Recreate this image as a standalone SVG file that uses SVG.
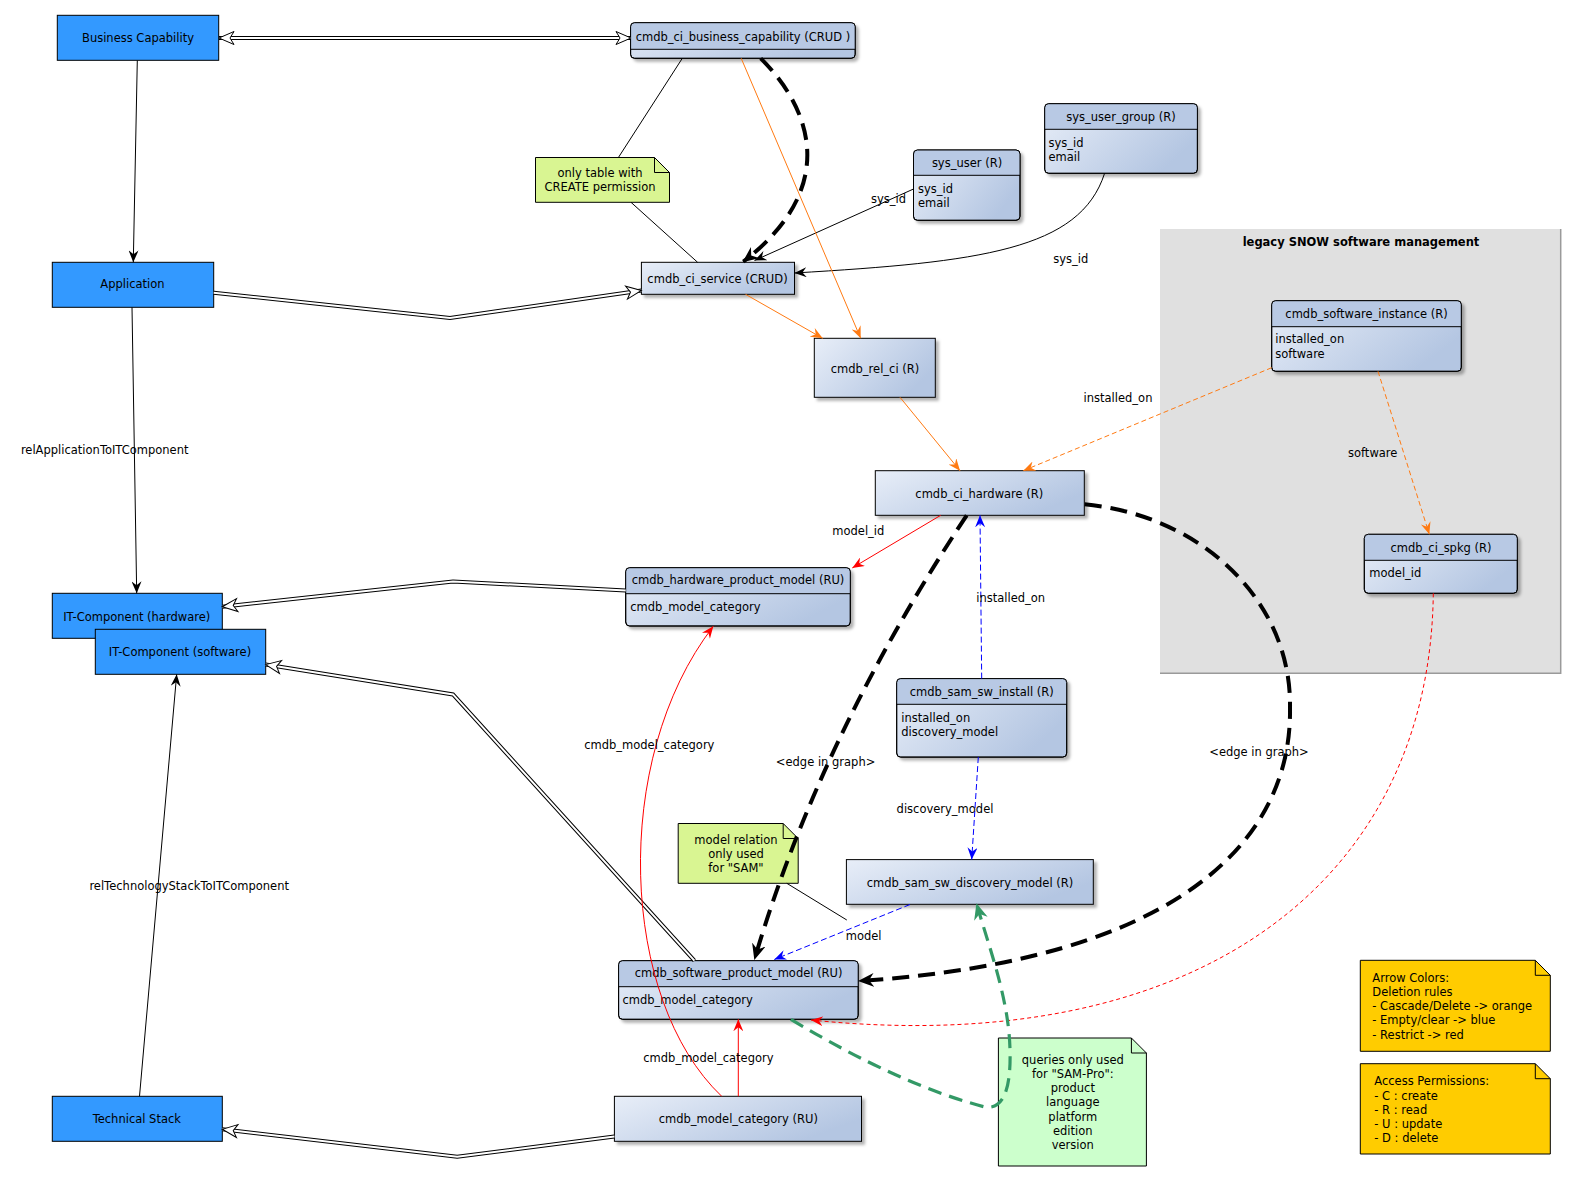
<svg xmlns="http://www.w3.org/2000/svg" width="1578" height="1182" viewBox="0 0 1578 1182">
<style>
text{font-family:"DejaVu Sans",Verdana,sans-serif;font-size:11.5px;fill:#000}
.c{text-anchor:middle}
.bd{font-weight:bold}
.blue{fill:#3399ff;stroke:#000;stroke-width:1}
.cls{fill:url(#g);stroke:#000;stroke-width:1}
.hdr{fill:#b8c9e4}
.sep{stroke:#000;stroke-width:1}
.note{stroke:#000;stroke-width:1}
.ln{fill:none;stroke-width:1}
.k{stroke:#000}
.o{stroke:#ff7a12}
.r{stroke:#ff0000}
.bl{stroke:#0000ff}
.dl1{fill:none;stroke:#000;stroke-width:4}
.dl2{fill:none;stroke:#fff;stroke-width:2}
.ha{fill:#fff;stroke:#000;stroke-width:1}
.thick{fill:none;stroke:#000;stroke-width:4;stroke-dasharray:17 9}
.grn{fill:none;stroke:#339966;stroke-width:3.2;stroke-dasharray:14 8}
</style>
<defs>
<linearGradient id="g" x1="0" y1="0" x2="1" y2="0.5">
<stop offset="0" stop-color="#e8eef8"/>
<stop offset="1" stop-color="#b4c6e2"/>
</linearGradient>
<filter id="sh" x="-10%" y="-10%" width="130%" height="140%">
<feDropShadow dx="3" dy="3" stdDeviation="1.5" flood-color="#000" flood-opacity="0.3"/>
</filter>
<marker id="mk" viewBox="0 0 12 10" refX="12" refY="5" markerWidth="12" markerHeight="10" markerUnits="userSpaceOnUse" orient="auto"><path d="M0,0 L12,5 L0,10 L4,5 z" fill="#000"/></marker>
<marker id="mo" viewBox="0 0 12 10" refX="12" refY="5" markerWidth="12" markerHeight="10" markerUnits="userSpaceOnUse" orient="auto"><path d="M0,0 L12,5 L0,10 L4,5 z" fill="#ff7a12"/></marker>
<marker id="mr" viewBox="0 0 12 10" refX="12" refY="5" markerWidth="12" markerHeight="10" markerUnits="userSpaceOnUse" orient="auto"><path d="M0,0 L12,5 L0,10 L4,5 z" fill="#ff0000"/></marker>
<marker id="mb" viewBox="0 0 12 10" refX="12" refY="5" markerWidth="12" markerHeight="10" markerUnits="userSpaceOnUse" orient="auto"><path d="M0,0 L12,5 L0,10 L4,5 z" fill="#0000ff"/></marker>
<marker id="mK" viewBox="0 0 16 14" refX="15" refY="7" markerWidth="16" markerHeight="14" markerUnits="userSpaceOnUse" orient="auto"><path d="M0,0 L16,7 L0,14 L5,7 z" fill="#000"/></marker>
<marker id="mG" viewBox="0 0 16 14" refX="15" refY="7" markerWidth="16" markerHeight="14" markerUnits="userSpaceOnUse" orient="auto"><path d="M0,0 L16,7 L0,14 L5,7 z" fill="#339966"/></marker>
</defs>
<rect width="1578" height="1182" fill="#fff"/>

<!-- group -->
<g id="legacy-group">
<rect x="1160" y="229" width="400.7" height="444.3" fill="#e0e0e0"/>
<path d="M1560.7,229 V673.3 H1160" fill="none" stroke="#9a9a9a" stroke-width="1.5"/>
<text class="c bd" x="1361" y="245.7">legacy SNOW software management</text>
</g>

<!-- blue nodes -->
<g id="business-capability"><rect class="blue" x="57.3" y="15.3" width="161.4" height="45"/><text class="c" x="138" y="42">Business Capability</text></g>
<g id="application"><rect class="blue" x="52.3" y="262.3" width="161.4" height="45"/><text class="c" x="132.5" y="288.3">Application</text></g>
<g id="it-hardware"><rect class="blue" x="52.3" y="593.3" width="170" height="45"/><text class="c" x="136.7" y="620.7">IT-Component (hardware)</text></g>
<g id="it-software"><rect class="blue" x="95.3" y="629.3" width="170.4" height="45"/><text class="c" x="180" y="656">IT-Component (software)</text></g>
<g id="technical-stack"><rect class="blue" x="52.3" y="1096.3" width="170" height="45"/><text class="c" x="136.8" y="1122.7">Technical Stack</text></g>

<!-- class nodes -->
<g id="cmdb_ci_business_capability">
<rect class="cls" x="630.6" y="22.7" width="224.6" height="35.6" rx="4" filter="url(#sh)"/>
<path class="hdr" d="M630.6,49.3 V26.7 Q630.6,22.7 634.6,22.7 H851.2 Q855.2,22.7 855.2,26.7 V49.3 Z"/>
<line class="sep" x1="630.6" y1="49.3" x2="855.2" y2="49.3"/>
<rect x="630.6" y="22.7" width="224.6" height="35.6" rx="4" fill="none" stroke="#000"/>
<text class="c" x="742.9" y="40.7">cmdb_ci_business_capability (CRUD )</text>
</g>
<g id="sys_user">
<rect class="cls" x="913.5" y="150" width="106.5" height="70.3" rx="4" filter="url(#sh)"/>
<path class="hdr" d="M913.5,175.3 V154 Q913.5,150 917.5,150 H1016 Q1020,150 1020,154 V175.3 Z"/>
<line class="sep" x1="913.5" y1="175.3" x2="1020" y2="175.3"/>
<rect x="913.5" y="150" width="106.5" height="70.3" rx="4" fill="none" stroke="#000"/>
<text class="c" x="967" y="167">sys_user (R)</text>
<text x="918" y="192.7">sys_id</text>
<text x="918" y="206.7">email</text>
</g>
<g id="sys_user_group">
<rect class="cls" x="1044.7" y="103.7" width="152.7" height="69.6" rx="4" filter="url(#sh)"/>
<path class="hdr" d="M1044.7,129.3 V107.7 Q1044.7,103.7 1048.7,103.7 H1193.4 Q1197.4,103.7 1197.4,107.7 V129.3 Z"/>
<line class="sep" x1="1044.7" y1="129.3" x2="1197.4" y2="129.3"/>
<rect x="1044.7" y="103.7" width="152.7" height="69.6" rx="4" fill="none" stroke="#000"/>
<text class="c" x="1121" y="120.7">sys_user_group (R)</text>
<text x="1048.5" y="146.7">sys_id</text>
<text x="1048.5" y="160.7">email</text>
</g>
<g id="cmdb_software_instance">
<rect class="cls" x="1271.7" y="300.7" width="189.6" height="70.6" rx="4" filter="url(#sh)"/>
<path class="hdr" d="M1271.7,326.7 V304.7 Q1271.7,300.7 1275.7,300.7 H1457.3 Q1461.3,300.7 1461.3,304.7 V326.7 Z"/>
<line class="sep" x1="1271.7" y1="326.7" x2="1461.3" y2="326.7"/>
<rect x="1271.7" y="300.7" width="189.6" height="70.6" rx="4" fill="none" stroke="#000"/>
<text class="c" x="1366.5" y="317.7">cmdb_software_instance (R)</text>
<text x="1275.3" y="343.3">installed_on</text>
<text x="1275.3" y="357.7">software</text>
</g>
<g id="cmdb_ci_spkg">
<rect class="cls" x="1364.3" y="534.3" width="153" height="59" rx="4" filter="url(#sh)"/>
<path class="hdr" d="M1364.3,560.3 V538.3 Q1364.3,534.3 1368.3,534.3 H1513.3 Q1517.3,534.3 1517.3,538.3 V560.3 Z"/>
<line class="sep" x1="1364.3" y1="560.3" x2="1517.3" y2="560.3"/>
<rect x="1364.3" y="534.3" width="153" height="59" rx="4" fill="none" stroke="#000"/>
<text class="c" x="1441" y="552">cmdb_ci_spkg (R)</text>
<text x="1369.3" y="577.3">model_id</text>
</g>
<g id="cmdb_hardware_product_model">
<rect class="cls" x="625.7" y="567.7" width="224.6" height="58.3" rx="4" filter="url(#sh)"/>
<path class="hdr" d="M625.7,593.7 V571.7 Q625.7,567.7 629.7,567.7 H846.3 Q850.3,567.7 850.3,571.7 V593.7 Z"/>
<line class="sep" x1="625.7" y1="593.7" x2="850.3" y2="593.7"/>
<rect x="625.7" y="567.7" width="224.6" height="58.3" rx="4" fill="none" stroke="#000"/>
<text class="c" x="738" y="584">cmdb_hardware_product_model (RU)</text>
<text x="630.3" y="610.7">cmdb_model_category</text>
</g>
<g id="cmdb_sam_sw_install">
<rect class="cls" x="896.7" y="678.6" width="170" height="78.5" rx="4" filter="url(#sh)"/>
<path class="hdr" d="M896.7,704.3 V682.6 Q896.7,678.6 900.7,678.6 H1062.7 Q1066.7,678.6 1066.7,682.6 V704.3 Z"/>
<line class="sep" x1="896.7" y1="704.3" x2="1066.7" y2="704.3"/>
<rect x="896.7" y="678.6" width="170" height="78.5" rx="4" fill="none" stroke="#000"/>
<text class="c" x="981.7" y="695.8">cmdb_sam_sw_install (R)</text>
<text x="901.3" y="721.5">installed_on</text>
<text x="901.3" y="735.8">discovery_model</text>
</g>
<g id="cmdb_software_product_model">
<rect class="cls" x="618.6" y="960.7" width="239.6" height="58.6" rx="4" filter="url(#sh)"/>
<path class="hdr" d="M618.6,986.7 V964.7 Q618.6,960.7 622.6,960.7 H854.2 Q858.2,960.7 858.2,964.7 V986.7 Z"/>
<line class="sep" x1="618.6" y1="986.7" x2="858.2" y2="986.7"/>
<rect x="618.6" y="960.7" width="239.6" height="58.6" rx="4" fill="none" stroke="#000"/>
<text class="c" x="738.6" y="977.3">cmdb_software_product_model (RU)</text>
<text x="622.5" y="1004">cmdb_model_category</text>
</g>

<!-- plain table nodes -->
<g id="cmdb_ci_service"><rect class="cls" x="641.4" y="262.3" width="153.1" height="32" filter="url(#sh)"/><text class="c" x="717.5" y="282.7">cmdb_ci_service (CRUD)</text></g>
<g id="cmdb_rel_ci"><rect class="cls" x="814.3" y="338.3" width="121" height="59" filter="url(#sh)"/><text class="c" x="875" y="373">cmdb_rel_ci (R)</text></g>
<g id="cmdb_ci_hardware"><rect class="cls" x="875.3" y="470.7" width="209" height="44.6" filter="url(#sh)"/><text class="c" x="979.3" y="497.7">cmdb_ci_hardware (R)</text></g>
<g id="cmdb_sam_sw_discovery_model"><rect class="cls" x="846.4" y="859.6" width="246.9" height="44.7" filter="url(#sh)"/><text class="c" x="970" y="886.9">cmdb_sam_sw_discovery_model (R)</text></g>
<g id="cmdb_model_category"><rect class="cls" x="614.4" y="1096.3" width="247.1" height="45" filter="url(#sh)"/><text class="c" x="738.3" y="1123">cmdb_model_category (RU)</text></g>

<!-- notes -->
<g id="note-create">
<path class="note" fill="#d9f592" d="M535.5,157.5 H654.5 L669.5,172.5 V202.3 H535.5 Z"/>
<path class="note" fill="none" d="M654.5,157.5 V172.5 H669.5"/>
<text class="c" x="600" y="176.7">only table with</text>
<text class="c" x="600" y="190.7">CREATE permission</text>
</g>
<g id="note-sam">
<path class="note" fill="#d9f592" d="M678.2,823.5 H783.2 L798.2,838.5 V883.3 H678.2 Z"/>
<path class="note" fill="none" d="M783.2,823.5 V838.5 H798.2"/>
<text class="c" x="736" y="844">model relation</text>
<text class="c" x="736" y="857.7">only used</text>
<text class="c" x="736" y="871.7">for "SAM"</text>
</g>
<g id="note-sampro">
<path class="note" fill="#ccffcc" d="M998.4,1038 H1131.4 L1146.4,1053 V1166 H998.4 Z"/>
<path class="note" fill="none" d="M1131.4,1038 V1053 H1146.4"/>
<text class="c" x="1072.8" y="1064">queries only used</text>
<text class="c" x="1072.8" y="1078">for "SAM-Pro":</text>
<text class="c" x="1072.8" y="1092">product</text>
<text class="c" x="1072.8" y="1106">language</text>
<text class="c" x="1072.8" y="1120.7">platform</text>
<text class="c" x="1072.8" y="1134.7">edition</text>
<text class="c" x="1072.8" y="1149">version</text>
</g>
<g id="legend-colors">
<path class="note" fill="#ffcc00" d="M1360.3,960.3 H1535.3 L1550.3,975.3 V1051.3 H1360.3 Z"/>
<path class="note" fill="none" d="M1535.3,960.3 V975.3 H1550.3"/>
<text x="1372.3" y="982">Arrow Colors:</text>
<text x="1372.3" y="996.3">Deletion rules</text>
<text x="1372.3" y="1009.7">- Cascade/Delete -&gt; orange</text>
<text x="1372.3" y="1024">- Empty/clear -&gt; blue</text>
<text x="1372.3" y="1038.7">- Restrict -&gt; red</text>
</g>
<g id="legend-permissions">
<path class="note" fill="#ffcc00" d="M1360.3,1063.7 H1535.3 L1550.3,1078.7 V1154 H1360.3 Z"/>
<path class="note" fill="none" d="M1535.3,1063.7 V1078.7 H1550.3"/>
<text x="1374.3" y="1085">Access Permissions:</text>
<text x="1374.3" y="1099.7">- C : create</text>
<text x="1374.3" y="1113.7">- R : read</text>
<text x="1374.3" y="1127.7">- U : update</text>
<text x="1374.3" y="1141.7">- D : delete</text>
</g>

<!-- connectors -->
<g id="connectors">
<path class="dl1" d="M219,38 H631"/><path class="dl2" d="M219,38 H631"/>
<polygon class="ha" points="0,0 -15,-6.5 -11,0 -15,6.5" transform="translate(631,38)"/>
<polygon class="ha" points="0,0 -15,-6.5 -11,0 -15,6.5" transform="translate(219,38) rotate(180)"/>
<path class="dl1" d="M213.7,292.7 L450,318 L641.4,290.5"/><path class="dl2" d="M213.7,292.7 L450,318 L641.4,290.5"/>
<polygon class="ha" points="0,0 -15,-6.5 -11,0 -15,6.5" transform="translate(641.4,290.5) rotate(-8.17)"/>
<path class="dl1" d="M625.7,590.5 L453,581.5 L222.3,606.7"/><path class="dl2" d="M625.7,590.5 L453,581.5 L222.3,606.7"/>
<polygon class="ha" points="0,0 -15,-6.5 -11,0 -15,6.5" transform="translate(222.3,606.7) rotate(173.76)"/>
<path class="dl1" d="M694.4,960.7 L453,694.4 L265.7,664.6"/><path class="dl2" d="M694.4,960.7 L453,694.4 L265.7,664.6"/>
<polygon class="ha" points="0,0 -15,-6.5 -11,0 -15,6.5" transform="translate(265.7,664.6) rotate(-170.79)"/>
<path class="dl1" d="M614.4,1136.5 L457.2,1156.7 L222.3,1129.3"/><path class="dl2" d="M614.4,1136.5 L457.2,1156.7 L222.3,1129.3"/>
<polygon class="ha" points="0,0 -15,-6.5 -11,0 -15,6.5" transform="translate(222.3,1129.3) rotate(-173.17)"/>

<line class="ln k" x1="137.3" y1="60.4" x2="133.3" y2="262.3" marker-end="url(#mk)"/>
<line class="ln k" x1="132" y1="307.3" x2="136.7" y2="593.3" marker-end="url(#mk)"/>
<line class="ln k" x1="139.5" y1="1096.3" x2="176.7" y2="674.3" marker-end="url(#mk)"/>
<line class="ln k" x1="682.3" y1="58.3" x2="618.4" y2="157.5"/>
<line class="ln k" x1="631" y1="202.3" x2="697.6" y2="262.3"/>
<line class="ln k" x1="913.5" y1="189" x2="754.5" y2="260.5" marker-end="url(#mk)"/>
<path class="ln k" d="M1104.6,173.3 C1080,250 980,262 794.5,273" marker-end="url(#mk)"/>
<line class="ln k" x1="786.8" y1="883.3" x2="846.8" y2="920"/>

<line class="ln o" x1="741.2" y1="58.3" x2="860.7" y2="338.3" marker-end="url(#mo)"/>
<line class="ln o" x1="745.5" y1="294.3" x2="822.7" y2="338.3" marker-end="url(#mo)"/>
<line class="ln o" x1="900" y1="397.3" x2="960" y2="470.7" marker-end="url(#mo)"/>
<line class="ln o" x1="1271.7" y1="367.7" x2="1023.3" y2="470.7" stroke-dasharray="5 3" marker-end="url(#mo)"/>
<line class="ln o" x1="1378" y1="371.3" x2="1429.3" y2="534.3" stroke-dasharray="5 3" marker-end="url(#mo)"/>

<line class="ln r" x1="940.7" y1="515.3" x2="852.3" y2="567.9" marker-end="url(#mr)"/>
<line class="ln r" x1="738.3" y1="1096.3" x2="738.3" y2="1019.3" marker-end="url(#mr)"/>
<path class="ln r" d="M721.7,1096.3 C620,1000 610,760 713.3,626.3" marker-end="url(#mr)"/>
<path class="ln r" d="M1433.3,593.3 C1430,880 1200,1060 811,1020" stroke-dasharray="4 3" marker-end="url(#mr)"/>

<line class="ln bl" x1="981.7" y1="678.6" x2="980" y2="515.3" stroke-dasharray="6 3" marker-end="url(#mb)"/>
<line class="ln bl" x1="978.3" y1="757.1" x2="971.7" y2="859.6" stroke-dasharray="6 3" marker-end="url(#mb)"/>
<line class="ln bl" x1="910" y1="904.5" x2="774.3" y2="959.5" stroke-dasharray="6 3" marker-end="url(#mb)"/>

<path class="thick" d="M760.7,58.3 C808,105 843,185 743.3,261.7" marker-end="url(#mK)"/>
<path class="thick" d="M966.7,515.3 Q820,737 754.6,959" marker-end="url(#mK)"/>
<path class="thick" d="M1084.7,504.3 C1200,515 1292,600 1290,708 C1292,840 1180,960 859,981" marker-end="url(#mK)"/>

<path class="grn" d="M790.9,1019.3 Q900,1085 985,1107 C1005,1110 1011,1085 1010,1050 C1009,1000 990,950 976.7,904.3" marker-end="url(#mG)"/>
</g>

<g id="labels">
<text class="c" x="104.7" y="454">relApplicationToITComponent</text>
<text class="c" x="189.2" y="889.6">relTechnologyStackToITComponent</text>
<text class="c" x="888.6" y="203.3">sys_id</text>
<text class="c" x="1070.7" y="263">sys_id</text>
<text class="c" x="1118" y="401.5">installed_on</text>
<text class="c" x="1372.7" y="456.7">software</text>
<text class="c" x="858.3" y="534.7">model_id</text>
<text class="c" x="1010.7" y="601.5">installed_on</text>
<text class="c" x="825.6" y="765.7">&lt;edge in graph&gt;</text>
<text class="c" x="1259" y="755.8">&lt;edge in graph&gt;</text>
<text class="c" x="649.3" y="749">cmdb_model_category</text>
<text class="c" x="945" y="812.6">discovery_model</text>
<text class="c" x="863.6" y="939.7">model</text>
<text class="c" x="708.4" y="1062.3">cmdb_model_category</text>
</g>
</svg>
